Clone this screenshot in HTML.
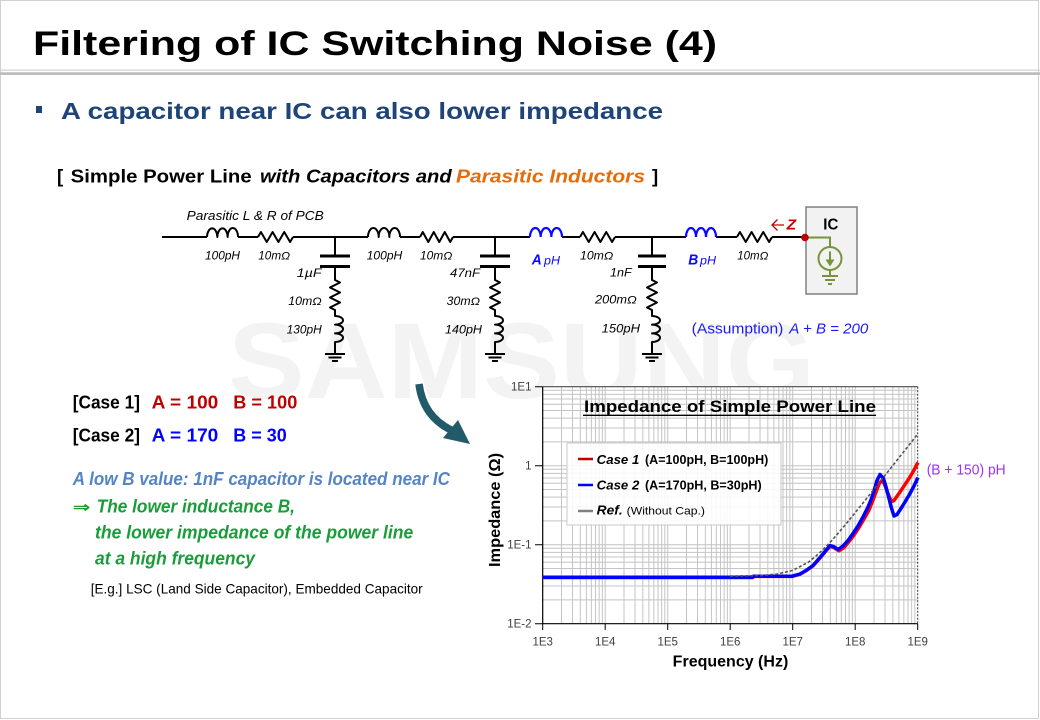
<!DOCTYPE html>
<html>
<head>
<meta charset="utf-8">
<style>
html,body{margin:0;padding:0;background:#fff;}
svg{display:block;}
text{font-family:"Liberation Sans",sans-serif;}
</style>
</head>
<body>
<svg width="1040" height="720" viewBox="0 0 1040 720" xmlns="http://www.w3.org/2000/svg">
<rect x="0" y="0" width="1040" height="720" fill="#fff"/>
<rect x="0.5" y="0.5" width="1038" height="718" fill="none" stroke="#d0d0d0" stroke-width="1"/>

<!-- Title -->
<text x="33" y="55" font-size="34" font-weight="bold" fill="#000" textLength="684" lengthAdjust="spacingAndGlyphs">Filtering of IC Switching Noise (4)</text>
<rect x="0" y="69.5" width="1040" height="1.2" fill="#d0d0d0"/>
<rect x="0" y="72.3" width="1040" height="2.6" fill="#bababa"/>

<!-- Bullet -->
<rect x="36" y="106" width="6" height="7" fill="#1f4478"/>
<text x="61" y="119" font-size="23.5" font-weight="bold" fill="#1f4478" textLength="602" lengthAdjust="spacingAndGlyphs">A capacitor near IC can also lower impedance</text>

<!-- Watermark -->
<text x="228" y="398" font-size="108" font-weight="bold" fill="#f3f3f3" textLength="587" lengthAdjust="spacingAndGlyphs">SAMSUNG</text>

<!-- Subtitle -->
<text x="57" y="182.5" font-size="18.5" font-weight="bold" fill="#000">[</text>
<text x="70.7" y="182.5" font-size="18.5" font-weight="bold" fill="#000" textLength="181" lengthAdjust="spacingAndGlyphs">Simple Power Line</text>
<text x="260" y="182.5" font-size="18.5" font-weight="bold" font-style="italic" fill="#000" textLength="191.7" lengthAdjust="spacingAndGlyphs">with Capacitors and</text>
<text x="456" y="182.5" font-size="18.5" font-weight="bold" font-style="italic" fill="#e46c0a" textLength="189" lengthAdjust="spacingAndGlyphs">Parasitic Inductors</text>
<text x="652" y="182.5" font-size="18.5" font-weight="bold" fill="#000">]</text>

<!-- Schematic: black wiring -->
<g fill="none" stroke="#000" stroke-width="2" stroke-linejoin="round">
  <path d="M162,237 H207 M238,237 H258 M293,237 H368 M400,237 H420 M453,237 H530 M562,237 H580 M615,237 H686 M716,237 H737 M772,237 H805"/>
  <path d="M207,237 a5.17,9 0 0 1 10.33,0 a5.17,9 0 0 1 10.33,0 a5.17,9 0 0 1 10.34,0"/>
  <path d="M368,237 a5.33,9 0 0 1 10.67,0 a5.33,9 0 0 1 10.67,0 a5.33,9 0 0 1 10.66,0"/>
  <path d="M258,237 L260.9,232 L266.75,242 L272.6,232 L278.4,242 L284.25,232 L290.1,242 L293,237"/>
  <path d="M420,237 L422.75,232 L428.25,242 L433.75,232 L439.25,242 L444.75,232 L450.25,242 L453,237"/>
  <path d="M580,237 L582.9,232 L588.75,242 L594.6,232 L600.4,242 L606.25,232 L612.1,242 L615,237"/>
  <path d="M737,237 L739.9,232 L745.75,242 L751.6,232 L757.4,242 L763.25,232 L769.1,242 L772,237"/>
</g>
<g fill="none" stroke="#0a0aff" stroke-width="2.2">
  <path d="M530,237 a5.33,9 0 0 1 10.67,0 a5.33,9 0 0 1 10.67,0 a5.33,9 0 0 1 10.66,0"/>
  <path d="M686,237 a5,9 0 0 1 10,0 a5,9 0 0 1 10,0 a5,9 0 0 1 10,0"/>
</g>

<!-- Branches -->
<g fill="none" stroke="#000" stroke-width="2" stroke-linejoin="round">
  <path d="M335,237 V256 M335,266.5 V280 L340,282.5 L330,287.5 L340,292.5 L330,297.5 L340,302.5 L330,307.5 L335,310 V316 a8,4.33 0 0 1 0,8.67 a8,4.33 0 0 1 0,8.67 a8,4.33 0 0 1 0,8.66 V354"/>
  <path d="M320,256 H350 M320,266.5 H350" stroke-width="3"/>
  <path d="M325,354 H345 M328.5,357.5 H341.5 M332,361 H338"/>
  <path d="M495,237 V256 M495,266.5 V280 L500,282.5 L490,287.5 L500,292.5 L490,297.5 L500,302.5 L490,307.5 L495,310 V316 a8,4.33 0 0 1 0,8.67 a8,4.33 0 0 1 0,8.67 a8,4.33 0 0 1 0,8.66 V354"/>
  <path d="M480,256 H510 M480,266.5 H510" stroke-width="3"/>
  <path d="M485,354 H505 M488.5,357.5 H501.5 M492,361 H498"/>
  <path d="M652,237 V256 M652,266.5 V280 L657,282.5 L647,287.5 L657,292.5 L647,297.5 L657,302.5 L647,307.5 L652,310 V316 a8,4.33 0 0 1 0,8.67 a8,4.33 0 0 1 0,8.67 a8,4.33 0 0 1 0,8.66 V354"/>
  <path d="M638,256 H666 M638,266.5 H666" stroke-width="3"/>
  <path d="M642,354 H662 M645.5,357.5 H658.5 M649,361 H655"/>
</g>

<!-- IC box -->
<rect x="806" y="207" width="51" height="87" fill="#f2f2f2" stroke="#808080" stroke-width="1.5"/>
<text x="823.3" y="229.5" font-size="16" font-weight="bold" fill="#000" textLength="15" lengthAdjust="spacingAndGlyphs">IC</text>
<g fill="none" stroke="#77933c" stroke-width="2">
  <path d="M805,237.5 H830 V247"/>
  <circle cx="830" cy="258.5" r="11.5"/>
  <path d="M830,251.5 V261"/>
  <path d="M830,270 V276 M822,276 H838 M825,280 H835 M828,284 H832"/>
</g>
<polygon points="825.5,259.5 834.5,259.5 830,266.5" fill="#77933c"/>
<circle cx="805" cy="237.5" r="3.8" fill="#c00000"/>
<path d="M784,225 H772 M777.5,219.5 L772,225 L777.5,230.5" fill="none" stroke="#c00000" stroke-width="1.3"/>
<text x="786.7" y="229.5" font-size="15" font-weight="bold" font-style="italic" fill="#c00000" textLength="9.5" lengthAdjust="spacingAndGlyphs">Z</text>

<!-- Schematic labels -->
<g font-size="11.5" font-style="italic" fill="#000">
  <text x="186.7" y="220" font-size="13" textLength="137" lengthAdjust="spacingAndGlyphs">Parasitic L &amp; R of PCB</text>
  <text x="205" y="259.5" textLength="35" lengthAdjust="spacingAndGlyphs">100pH</text>
  <text x="258.3" y="259.5" textLength="31.7" lengthAdjust="spacingAndGlyphs">10mΩ</text>
  <text x="366.7" y="259.5" textLength="35.6" lengthAdjust="spacingAndGlyphs">100pH</text>
  <text x="420" y="259.5" textLength="32.3" lengthAdjust="spacingAndGlyphs">10mΩ</text>
  <text x="580" y="259.5" textLength="33.3" lengthAdjust="spacingAndGlyphs">10mΩ</text>
  <text x="737.3" y="259.5" textLength="31" lengthAdjust="spacingAndGlyphs">10mΩ</text>
  <text x="296.7" y="277" textLength="25" lengthAdjust="spacingAndGlyphs">1µF</text>
  <text x="288.3" y="305" textLength="33.4" lengthAdjust="spacingAndGlyphs">10mΩ</text>
  <text x="286.7" y="333.3" textLength="35" lengthAdjust="spacingAndGlyphs">130pH</text>
  <text x="450" y="277" textLength="30" lengthAdjust="spacingAndGlyphs">47nF</text>
  <text x="446.7" y="305" textLength="33.3" lengthAdjust="spacingAndGlyphs">30mΩ</text>
  <text x="445" y="333.3" textLength="37" lengthAdjust="spacingAndGlyphs">140pH</text>
  <text x="610" y="276.5" textLength="21.7" lengthAdjust="spacingAndGlyphs">1nF</text>
  <text x="595" y="303.5" textLength="41.7" lengthAdjust="spacingAndGlyphs">200mΩ</text>
  <text x="601.7" y="332.7" textLength="38.3" lengthAdjust="spacingAndGlyphs">150pH</text>
</g>
<text x="531.7" y="264.5" font-size="15" font-weight="bold" font-style="italic" fill="#0a0aff" textLength="10" lengthAdjust="spacingAndGlyphs">A</text>
<text x="544" y="264.5" font-size="11.5" font-style="italic" fill="#0a0aff" textLength="16" lengthAdjust="spacingAndGlyphs">pH</text>
<text x="688.3" y="264.5" font-size="15" font-weight="bold" font-style="italic" fill="#0a0aff" textLength="10" lengthAdjust="spacingAndGlyphs">B</text>
<text x="700" y="264.5" font-size="11.5" font-style="italic" fill="#0a0aff" textLength="16" lengthAdjust="spacingAndGlyphs">pH</text>

<text x="691.7" y="333.5" font-size="15" fill="#1c1cf0" textLength="91.6" lengthAdjust="spacingAndGlyphs">(Assumption)</text>
<text x="789.3" y="333.5" font-size="15" font-style="italic" fill="#1c1cf0" textLength="79" lengthAdjust="spacingAndGlyphs">A + B = 200</text>

<!-- Left text block -->
<g font-size="18" font-weight="bold">
  <text x="72.7" y="408.3" fill="#000" textLength="67.3" lengthAdjust="spacingAndGlyphs">[Case 1]</text>
  <text x="151.7" y="408.3" fill="#c00000" textLength="66.6" lengthAdjust="spacingAndGlyphs">A = 100</text>
  <text x="233.3" y="408.3" fill="#c00000" textLength="64" lengthAdjust="spacingAndGlyphs">B = 100</text>
  <text x="72.7" y="441.7" fill="#000" textLength="67.3" lengthAdjust="spacingAndGlyphs">[Case 2]</text>
  <text x="151.7" y="441.7" fill="#0000ff" textLength="66.6" lengthAdjust="spacingAndGlyphs">A = 170</text>
  <text x="233.3" y="441.7" fill="#0000ff" textLength="53.4" lengthAdjust="spacingAndGlyphs">B = 30</text>
  <text x="72.7" y="485" font-style="italic" fill="#5584c4" textLength="377.3" lengthAdjust="spacingAndGlyphs">A low B value: 1nF capacitor is located near IC</text>
  <text x="72.5" y="512.7" fill="#1a9c3a" style="font-family:'DejaVu Sans',sans-serif" font-size="16" textLength="18" lengthAdjust="spacingAndGlyphs">⇒</text>
  <text x="96.7" y="512.7" font-style="italic" fill="#1a9c3a" textLength="198.3" lengthAdjust="spacingAndGlyphs">The lower inductance B,</text>
  <text x="95" y="538.3" font-style="italic" fill="#1a9c3a" textLength="318.3" lengthAdjust="spacingAndGlyphs">the lower impedance of the power line</text>
  <text x="95" y="564.3" font-style="italic" fill="#1a9c3a" textLength="160" lengthAdjust="spacingAndGlyphs">at a high frequency</text>
</g>
<text x="90.7" y="593.3" font-size="14" fill="#000" textLength="332" lengthAdjust="spacingAndGlyphs">[E.g.] LSC (Land Side Capacitor), Embedded Capacitor</text>

<!-- Curved arrow -->
<path d="M419,384 Q423,416 451,430" fill="none" stroke="#215a69" stroke-width="7.5"/>
<polygon points="443,438 458,420 470,444" fill="#215a69"/>

<!-- Chart -->
<rect x="542.7" y="386.7" width="375" height="237" fill="#fff"/>
<g stroke="#c4c4c4" stroke-width="1" fill="none">
  <path d="M561.51,386.7V623.7M572.52,386.7V623.7M580.33,386.7V623.7M586.39,386.7V623.7M591.33,386.7V623.7M595.52,386.7V623.7M599.14,386.7V623.7M602.34,386.7V623.7M605.2,386.7V623.7
M624.01,386.7V623.7M635.02,386.7V623.7M642.83,386.7V623.7M648.89,386.7V623.7M653.83,386.7V623.7M658.02,386.7V623.7M661.64,386.7V623.7M664.84,386.7V623.7M667.7,386.7V623.7
M686.51,386.7V623.7M697.52,386.7V623.7M705.33,386.7V623.7M711.39,386.7V623.7M716.33,386.7V623.7M720.52,386.7V623.7M724.14,386.7V623.7M727.34,386.7V623.7M730.2,386.7V623.7
M749.01,386.7V623.7M760.02,386.7V623.7M767.83,386.7V623.7M773.89,386.7V623.7M778.83,386.7V623.7M783.02,386.7V623.7M786.64,386.7V623.7M789.84,386.7V623.7M792.7,386.7V623.7
M811.51,386.7V623.7M822.52,386.7V623.7M830.33,386.7V623.7M836.39,386.7V623.7M841.33,386.7V623.7M845.52,386.7V623.7M849.14,386.7V623.7M852.34,386.7V623.7M855.2,386.7V623.7
M874.01,386.7V623.7M885.02,386.7V623.7M892.83,386.7V623.7M898.89,386.7V623.7M903.83,386.7V623.7M908.02,386.7V623.7M911.64,386.7V623.7M914.84,386.7V623.7"/>
  <path d="M542.7,599.92H917.7M542.7,586.01H917.7M542.7,576.14H917.7M542.7,568.48H917.7M542.7,562.23H917.7M542.7,556.94H917.7M542.7,552.36H917.7M542.7,548.31H917.7M542.7,544.7H917.7
M542.7,520.92H917.7M542.7,507.01H917.7M542.7,497.14H917.7M542.7,489.48H917.7M542.7,483.23H917.7M542.7,477.94H917.7M542.7,473.36H917.7M542.7,469.31H917.7M542.7,465.7H917.7
M542.7,441.92H917.7M542.7,428.01H917.7M542.7,418.14H917.7M542.7,410.48H917.7M542.7,404.23H917.7M542.7,398.94H917.7M542.7,394.36H917.7M542.7,390.31H917.7"/>
</g>
<path d="M542.7,386.7 H917.7" stroke="#333" stroke-width="1" fill="none"/>
<path d="M917.7,386.7 V623.7" stroke="#333" stroke-width="1" stroke-dasharray="2 1.5" fill="none"/>
<path d="M542.7,386.7 V623.7 H917.7" stroke="#000" stroke-width="1.2" fill="none"/>
<path d="M535,386.7H542.7M535,465.7H542.7M535,544.7H542.7M535,623.7H542.7 M542.7,623.7V630M605.2,623.7V630M667.7,623.7V630M730.2,623.7V630M792.7,623.7V630M855.2,623.7V630M917.7,623.7V630" stroke="#000" stroke-width="1" fill="none"/>

<text x="584" y="412" font-size="16.5" font-weight="bold" fill="#000" textLength="292" lengthAdjust="spacingAndGlyphs">Impedance of  Simple Power Line</text>
<path d="M583,415.3 H876" stroke="#000" stroke-width="1.4"/>

<!-- curves -->
<path d="M542.7,577.5 H752.7 L753.5,576.4 H792 L800,574.2 L806,570.7 L813,565.8 L820,558 L825,552 L830,546.2 L834,547.8 L839,550.8 L844,547.5 L849,541.5 L854,535 L859,527.5 L864,519 L869,510 L873,500 L876.5,490.5 L879.5,483 L882,480.5 L884.5,484 L887,491 L889.5,497.5 L891.7,501.5 L894,500.5 L900,492 L905,484.5 L910,477 L914,470 L918,462.5" fill="none" stroke="#ff0000" stroke-width="3.5" stroke-linejoin="round"/>
<path d="M542.7,577.3 H752.7 L753.5,576.2 H792 L800,574 L806,570.5 L813,565.5 L820,557.5 L825,551.5 L830,545.5 L833.5,546.5 L838,549.5 L843,546 L848,540.5 L853,533.5 L858,526 L863,517 L868,507 L871.5,498.5 L874.5,489 L877,480.5 L880,474.5 L883.5,478.5 L886,487 L888.5,496.5 L891,506.5 L894,516 L897,514.5 L900,510 L905,502 L910,493.5 L914,486 L918,477.5" fill="none" stroke="#0000ff" stroke-width="3.5" stroke-linejoin="round"/>
<path d="M730.2,576.1 L761.5,575.5 L777.1,574.1 L792.7,570.4 L808.3,562.2 L816,556 L823.95,548.7 L831.8,540.6 L839.6,531.5 L847.4,522.3 L855.2,512.6 L863,503 L870.8,493.2 L886.45,473.5 L902.1,453.8 L917.7,434.1" fill="none" stroke="#555" stroke-width="1.6" stroke-dasharray="3 2"/>

<!-- legend -->
<rect x="567" y="443" width="214" height="82" fill="#fff" fill-opacity="0.88" stroke="#c8c8c8" stroke-width="1"/>
<path d="M578,459 H593" stroke="#c00000" stroke-width="2.5"/>
<path d="M578,485 H593" stroke="#0000ff" stroke-width="2.5"/>
<path d="M578,511 H593" stroke="#808080" stroke-width="2.5"/>
<g font-size="13" font-weight="bold" fill="#000">
  <text x="596.7" y="464" font-style="italic" textLength="42.6" lengthAdjust="spacingAndGlyphs">Case 1</text>
  <text x="645" y="464" textLength="123.3" lengthAdjust="spacingAndGlyphs">(A=100pH, B=100pH)</text>
  <text x="596.7" y="489.5" font-style="italic" textLength="42.6" lengthAdjust="spacingAndGlyphs">Case 2</text>
  <text x="645" y="489.5" textLength="116.7" lengthAdjust="spacingAndGlyphs">(A=170pH, B=30pH)</text>
  <text x="596.7" y="514.5" font-style="italic" textLength="26" lengthAdjust="spacingAndGlyphs">Ref.</text>
</g>
<text x="626.7" y="514.5" font-size="11" fill="#000" textLength="78.3" lengthAdjust="spacingAndGlyphs">(Without Cap.)</text>

<g font-size="11.5" fill="#404040">
  <text x="531.5" y="390.7" text-anchor="end">1E1</text>
  <text x="531.5" y="469.7" text-anchor="end">1</text>
  <text x="531.5" y="548.7" text-anchor="end">1E-1</text>
  <text x="531.5" y="627.7" text-anchor="end">1E-2</text>
  <text x="542.7" y="645.7" text-anchor="middle">1E3</text>
  <text x="605.2" y="645.7" text-anchor="middle">1E4</text>
  <text x="667.7" y="645.7" text-anchor="middle">1E5</text>
  <text x="730.2" y="645.7" text-anchor="middle">1E6</text>
  <text x="792.7" y="645.7" text-anchor="middle">1E7</text>
  <text x="855.2" y="645.7" text-anchor="middle">1E8</text>
  <text x="917.7" y="645.7" text-anchor="middle">1E9</text>
</g>
<text x="672.7" y="666.5" font-size="15.5" font-weight="bold" fill="#000" textLength="115.6" lengthAdjust="spacingAndGlyphs">Frequency (Hz)</text>
<text transform="translate(500,510) rotate(-90)" x="0" y="0" text-anchor="middle" font-size="15.5" font-weight="bold" fill="#000" textLength="114" lengthAdjust="spacingAndGlyphs">Impedance (Ω)</text>

<text x="926.7" y="474.3" font-size="14.5" fill="#9b30ff" textLength="79" lengthAdjust="spacingAndGlyphs">(B + 150) pH</text>
</svg>
</body>
</html>
